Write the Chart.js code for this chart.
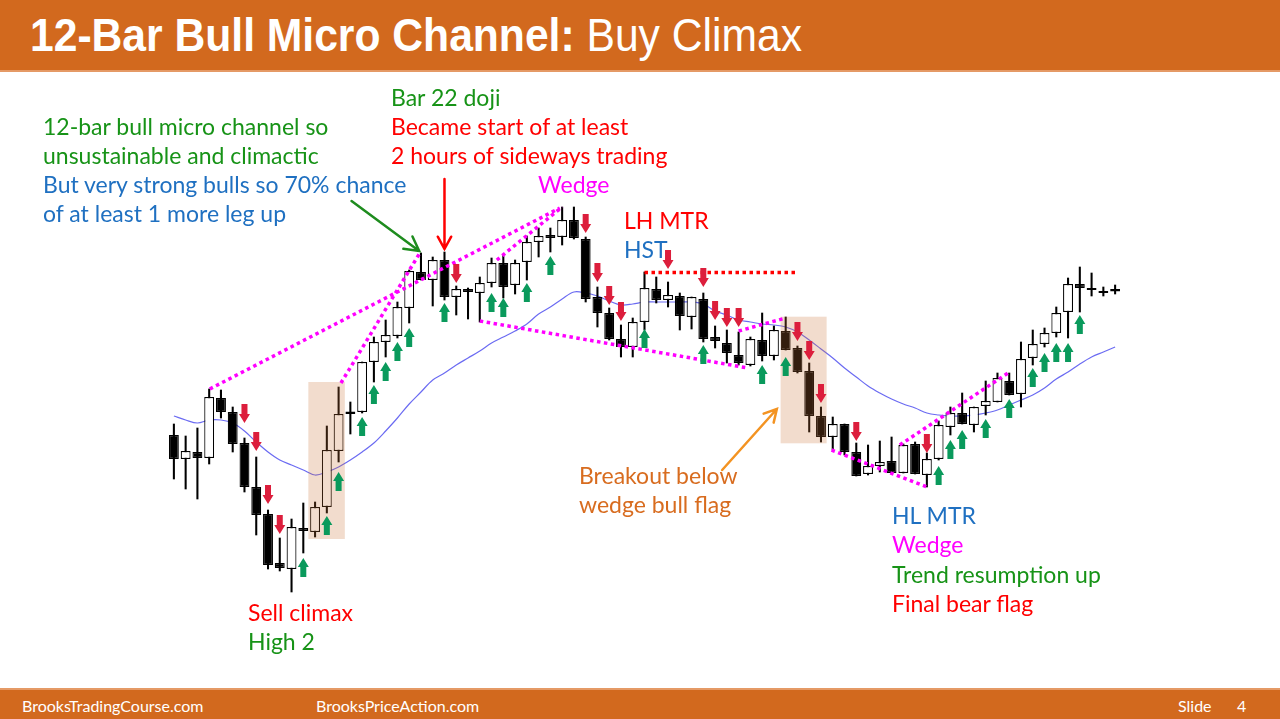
<!DOCTYPE html>
<html>
<head>
<meta charset="utf-8">
<script src="https://cdn.jsdelivr.net/npm/chart.js@4.4.1/dist/chart.umd.min.js"></script>
<style>
  html, body { margin: 0; padding: 0; background: #fff; width: 1280px; height: 719px; overflow: hidden; }
  #wrap { position: relative; width: 1280px; height: 719px; font-family: Lato, "Noto Sans", sans-serif; }
  #chart { position: absolute; left: 0; top: 0; }
  .hdr { position: absolute; left: 0; top: 0; width: 1280px; height: 70px; background: #D2691E; border-bottom: 2px solid #E59A66; }
  .title { position: absolute; left: 30px; top: 8px; color: #fff; white-space: nowrap; transform-origin: 0 0;
           font-family: "Liberation Sans Narrow", "Arial Narrow", "Liberation Sans", Arial, sans-serif; font-size: 47px; line-height: 54px; }
  .title b { font-weight: bold; }
  .ftr { position: absolute; left: 0; top: 688px; width: 1280px; height: 31px; background: #D2691E; border-top: 2px solid #E59A66; color: #fff; font-size: 16px; }
  .ftr span { position: absolute; top: 6px; white-space: nowrap; }
  .note { position: absolute; font-size: 23px; line-height: 29px; white-space: nowrap; }
  .g { color: #179317; } .r { color: #FF0000; } .b { color: #1F70C1; } .m { color: #FF00FF; } .o { color: #D86C1F; }
</style>
</head>
<body>
<div id="wrap">
  <canvas id="chart" width="1280" height="719"></canvas>
  <div class="hdr"><div class="title" id="title"><b>12-Bar Bull Micro Channel:</b> Buy Climax</div></div>

  <div class="note g" style="left:43px;top:112px">12-bar bull micro channel so</div>
  <div class="note g" style="left:43px;top:141px">unsustainable and climactic</div>
  <div class="note b" style="left:43px;top:170px">But very strong bulls so 70% chance</div>
  <div class="note b" style="left:43px;top:199px">of at least 1 more leg up</div>

  <div class="note g" style="left:391px;top:83px">Bar 22 doji</div>
  <div class="note r" style="left:391px;top:112px">Became start of at least</div>
  <div class="note r" style="left:391px;top:141px">2 hours of sideways trading</div>
  <div class="note m" style="left:538px;top:170px">Wedge</div>

  <div class="note r" style="left:624px;top:206px">LH MTR</div>
  <div class="note b" style="left:624px;top:235px">HST</div>

  <div class="note o" style="left:579px;top:461px">Breakout below</div>
  <div class="note o" style="left:579px;top:490px">wedge bull flag</div>

  <div class="note r" style="left:248px;top:598px">Sell climax</div>
  <div class="note g" style="left:248px;top:627px">High 2</div>

  <div class="note b" style="left:892px;top:501px">HL MTR</div>
  <div class="note m" style="left:892px;top:530px">Wedge</div>
  <div class="note g" style="left:892px;top:560px">Trend resumption up</div>
  <div class="note r" style="left:892px;top:589px">Final bear flag</div>

  <div class="ftr">
    <span style="left:22px">BrooksTradingCourse.com</span>
    <span style="left:316px">BrooksPriceAction.com</span>
    <span style="left:1178px">Slide</span>
    <span style="left:1237px">4</span>
  </div>
</div>

<script>
// OHLC per bar (bar 1 .. 81)
const opens  = [265,241,248,242,302,288,257,213,186,137,131,172,168,193,249,288.5,288,338,358,364,392,428,420,440,403,411,407,417,437,415,438,458,465,463,480,461,403,387,361,353,378,411,400,404,383,401,363,357,345,335,360,344,369,352,329,284,263,276,248,226,234,239,227,256,225,241,273,287,275,294,298,319,306,342,356,367,388,416,412,409,411];
const highs  = [276,264,272,311,310,293,262,243,190,162,181,197,198,274,313,298,338,363,380,398,430,447,443,448,414,412,423,442,445,440,464,472,472,493,493,463,413,392,375,382,428,423,418,407,403,407,374,370,368,363,387,374,383,354,337,293,283,276,257,255,259,263,256,258,247,279,293,307,293,319,327,327,358,370,372,393,422,433,427,413,415];
const lows   = [221,211,201,236,282,248,208,165,131,129,108,147,163,187,238,266,287,318,343,362,377,420,394,400,385,381,378,413,402,406,420,443,448,455,461,398,373,360,343,343,370,397,393,370,371,358,352,337,335,334,339,340,350,327,268,258,250,245,224,225,228,227,227,226,213,240,265,276,268,285,298,305,293,335,353,363,362,388,404,404,406];
const closes = [241,249,242,303,288,256,213,185,135,132,173,169,193,250,286,286,338,358,365,393,429,420,440,403,411,408,417,437,413,437,458,464,462,480,462,401,387,361,353,378,412,400,405,384,403,361,359,347,337,361,344,370,350,328,284,263,276,248,224,234,238,227,255,226,241,275,287,276,293,299,322,305,341,356,367,387,416,412,410,407,408.5];

// moving average line drawn on the slide
const ema = [284,280,277,280,280,277,269,258,248,240,235,230,225,228,233,240,248,257,269,282,296,308,320,327,335,342,349,357,363,369,376,386,393,401,408,407,404,399,395,396,398,398,398,398,398,396,389,385,380,378,376,375,373,368,360,351,342,332,323,314,307,301,296,292,287,285,284,284,285,287,290,295,300,305,312,321,328,336,343,348,353];

// bear signal bars (red arrows) and the price of each arrow tip
const redArrowBars = [7,8,9,10,25,36,37,38,39,43,46,47,48,49,54,55,56,59,65];
const redArrowTips = [277,249,196,166,417,467,418,395,379,431,413,380,373,373,359,340,297,259,247];
// bull signal bars (green arrows) and the price of each arrow tip
const greenArrowBars = [12,14,15,17,18,19,20,21,24,28,29,31,33,41,46,51,53,66,67,68,70,72,74,75,76,77,78];
const greenArrowTips = [142,184,228,283,315,338,358,372,397,407,402,417,444,371,355,335,343,234,260,270,281,301,332,347,357,357,385];

// dotted trend lines: [bar, price, bar, price]
const wedgeLines = [
  [4.05, 311, 33.8, 492],
  [15.2, 317, 21.9, 447],
  [28.45, 440, 34.0, 493],
  [27.0, 379, 49.8, 332],
  [49.0, 369, 53.0, 382],
  [56.9, 250, 65.0, 213],
  [62.7, 255, 71.9, 327]
];
const resistanceLine = [41.0, 427.5, 53.95, 427.5];

// shaded spike zones: [bar from, bar to, price low, price high]
const shadeZones = [
  [12.43, 15.53, 161, 318],
  [52.57, 56.48, 256.7, 383.3]
];

// pointer arrows: [bar, price] from -> to
const greenPointer = [16.1, 499, 21.85, 449];
const redPointer = [24.0, 521, 24.0, 451];
const orangePointer = [47.6, 230, 52.25, 291];

const barNo = opens.map((_, i) => i + 1);

function arrow(ctx, cx, tip, down, color) {
  const dir = down ? 1 : -1;
  const h = 19, hh = 9, hw = 5.5, sw = 3;
  const back = tip - dir * h, neck = tip - dir * hh;
  ctx.fillStyle = color;
  ctx.beginPath();
  ctx.moveTo(cx - sw, back);
  ctx.lineTo(cx + sw, back);
  ctx.lineTo(cx + sw, neck);
  ctx.lineTo(cx + hw, neck);
  ctx.lineTo(cx, tip);
  ctx.lineTo(cx - hw, neck);
  ctx.lineTo(cx - sw, neck);
  ctx.closePath();
  ctx.fill();
}

function pointer(ctx, x, y, p, color, len) {
  const x0 = x.getPixelForValue(p[0]), y0 = y.getPixelForValue(p[1]);
  const x1 = x.getPixelForValue(p[2]), y1 = y.getPixelForValue(p[3]);
  const a = Math.atan2(y1 - y0, x1 - x0);
  ctx.strokeStyle = color;
  ctx.lineWidth = 2.5;
  ctx.lineCap = "round";
  ctx.beginPath();
  ctx.moveTo(x0, y0);
  ctx.lineTo(x1, y1);
  ctx.moveTo(x1 - len * Math.cos(a - 0.5), y1 - len * Math.sin(a - 0.5));
  ctx.lineTo(x1, y1);
  ctx.lineTo(x1 - len * Math.cos(a + 0.5), y1 - len * Math.sin(a + 0.5));
  ctx.stroke();
}

const marks = {
  id: "marks",
  afterDatasetDraw(chart, args) {
    if (args.index !== 0) return;
    const { ctx, scales: { x, y } } = chart;
    ctx.save();
    ctx.fillStyle = "rgba(205,115,55,0.25)";
    for (const z of shadeZones) {
      const x0 = x.getPixelForValue(z[0]), x1 = x.getPixelForValue(z[1]);
      const y0 = y.getPixelForValue(z[3]), y1 = y.getPixelForValue(z[2]);
      ctx.fillRect(x0, y0, x1 - x0, y1 - y0);
    }
    ctx.restore();
  },
  afterDatasetsDraw(chart) {
    const { ctx, scales: { x, y } } = chart;
    ctx.save();
    redArrowBars.forEach((b, i) => arrow(ctx, x.getPixelForValue(b), y.getPixelForValue(redArrowTips[i]), true, "#DC1E3C"));
    greenArrowBars.forEach((b, i) => arrow(ctx, x.getPixelForValue(b), y.getPixelForValue(greenArrowTips[i]), false, "#0A9A5C"));
    pointer(ctx, x, y, greenPointer, "#1E8C1E", 16);
    pointer(ctx, x, y, redPointer, "#FF0000", 14);
    pointer(ctx, x, y, orangePointer, "#F39322", 14);
    ctx.restore();
  }
};

const lineSet = (pts, color) => ({
  type: "line",
  data: [{ x: pts[0], y: pts[1] }, { x: pts[2], y: pts[3] }],
  borderColor: color,
  borderWidth: 3.5,
  borderDash: [3.5, 3.5],
  pointRadius: 0,
  order: 0
});

new Chart(document.getElementById("chart"), {
  type: "bar",
  data: {
    datasets: [
      {
        label: "body",
        data: barNo.map((b, i) => ({ x: b, y: [opens[i], closes[i]] })),
        backgroundColor: barNo.map((b, i) => closes[i] > opens[i] ? "#FFFFFF" : "#000000"),
        borderColor: "#000000",
        borderWidth: 1.2,
        borderSkipped: false,
        grouped: false,
        categoryPercentage: 1,
        barPercentage: 0.84,
        order: 1
      },
      {
        label: "wick",
        data: barNo.map((b, i) => ({ x: b, y: [lows[i], highs[i]] })),
        backgroundColor: "#000000",
        barThickness: 1.4,
        grouped: false,
        order: 2
      },
      {
        type: "line",
        label: "ema",
        data: barNo.map((b, i) => ({ x: b, y: ema[i] })),
        borderColor: "#6B6BF2",
        borderWidth: 1.2,
        pointRadius: 0,
        tension: 0.35,
        order: 3
      },
      ...wedgeLines.map(p => lineSet(p, "#FF00FF")),
      lineSet(resistanceLine, "#FF0000")
    ]
  },
  options: {
    responsive: false,
    animation: false,
    devicePixelRatio: 1,
    layout: { padding: { left: 168, right: 159, top: 0, bottom: 0 } },
    plugins: { legend: { display: false }, tooltip: { enabled: false } },
    scales: {
      x: { type: "linear", min: 0.5, max: 81.5, offset: false, display: false, ticks: { stepSize: 10 } },
      y: { min: -19, max: 700, display: false }
    }
  },
  plugins: [marks]
});

// squeeze the title to the slide's width
const t = document.getElementById("title");
const w = t.getBoundingClientRect().width;
t.style.transform = "scaleX(" + (772 / w) + ")";
</script>
</body>
</html>
